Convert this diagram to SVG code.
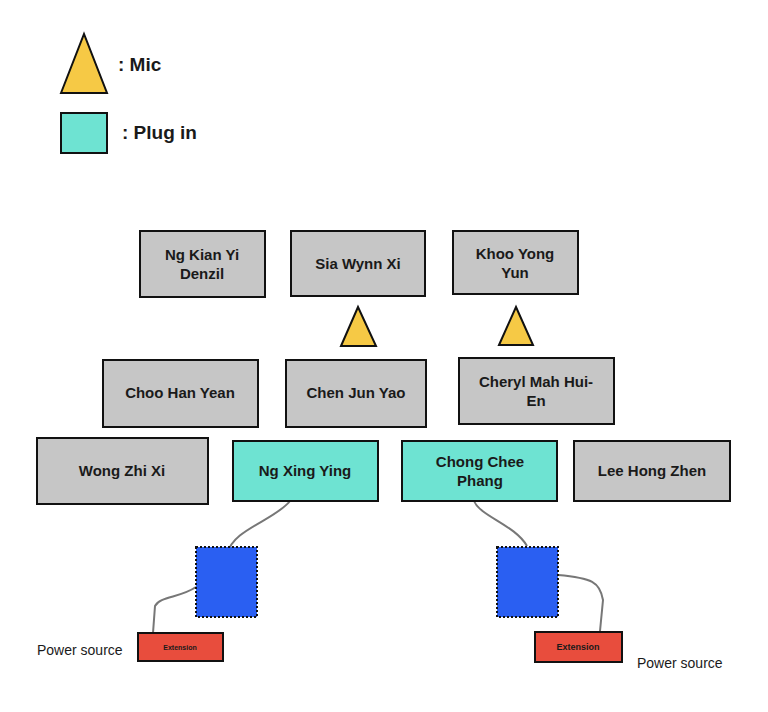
<svg xmlns="http://www.w3.org/2000/svg" width="768" height="712" viewBox="0 0 768 712">
<style>
.g{fill:#c6c6c6;stroke:#111;stroke-width:2}
.t{fill:#6ee3d2;stroke:#111;stroke-width:2}
.m{fill:#f6c945;stroke:#111;stroke-width:2;stroke-linejoin:miter}
.b{fill:#2a5ff2;stroke:#111;stroke-width:2;stroke-dasharray:2 2}
.e{fill:#e84d3d;stroke:#111;stroke-width:2}
text{font-family:"Liberation Sans",Arial,sans-serif;fill:#1a1a1a}
.l{font-size:15px;font-weight:bold;text-anchor:middle}
.c{fill:none;stroke:#777;stroke-width:2}
</style>
<g id="legend">
<polygon class="m" points="61,93 84,34 107,93"/>
<text x="118" y="71" font-size="19" font-weight="bold">: Mic</text>
<rect class="t" x="61" y="113" width="46" height="40"/>
<text x="122" y="139" font-size="19" font-weight="bold">: Plug in</text>
</g>
<g id="connectors">
<path class="c" d="M290,501 C275,520 232,530 228,553"/>
<path class="c" d="M196,587 C180,598 160,596 155,606 L153,633"/>
<path class="c" d="M474,501 C480,516 515,525 527,546"/>
<path class="c" d="M558,575 C592,578 600,582 603,600 L600,631"/>
</g>
<g id="n1"><rect class="g" x="140" y="231" width="125" height="66"/><text class="l" x="202" y="260">Ng Kian Yi</text><text class="l" x="202" y="279">Denzil</text></g>
<g id="n2"><rect class="g" x="291" y="231" width="134" height="65"/><text class="l" x="358" y="269">Sia Wynn Xi</text></g>
<g id="n3"><rect class="g" x="453" y="231" width="125" height="63"/><text class="l" x="515" y="259">Khoo Yong</text><text class="l" x="515" y="278">Yun</text></g>
<g id="mic1"><polygon class="m" points="341,346 358,307 376,346"/></g>
<g id="mic2"><polygon class="m" points="499,345 516,307 533,345"/></g>
<g id="n4"><rect class="g" x="103" y="360" width="155" height="67"/><text class="l" x="180" y="398">Choo Han Yean</text></g>
<g id="n5"><rect class="g" x="286" y="360" width="140" height="67"/><text class="l" x="356" y="398">Chen Jun Yao</text></g>
<g id="n6"><rect class="g" x="459" y="358" width="155" height="66"/><text class="l" x="536" y="387">Cheryl Mah Hui-</text><text class="l" x="536" y="406">En</text></g>
<g id="n7"><rect class="g" x="37" y="438" width="171" height="66"/><text class="l" x="122" y="476">Wong Zhi Xi</text></g>
<g id="n8"><rect class="t" x="233" y="441" width="145" height="60"/><text class="l" x="305" y="476">Ng Xing Ying</text></g>
<g id="n9"><rect class="t" x="402" y="441" width="155" height="60"/><text class="l" x="480" y="467">Chong Chee</text><text class="l" x="480" y="486">Phang</text></g>
<g id="n10"><rect class="g" x="574" y="441" width="156" height="60"/><text class="l" x="652" y="476">Lee Hong Zhen</text></g>
<g id="box1"><rect class="b" x="196" y="547" width="61" height="70"/></g>
<g id="box2"><rect class="b" x="497" y="547" width="61" height="70"/></g>
<g id="ext1"><rect class="e" x="138" y="633" width="85" height="28"/><text x="180" y="650" font-size="7" font-weight="bold" text-anchor="middle">Extension</text></g>
<g id="ext2"><rect class="e" x="535" y="632" width="87" height="30"/><text x="578" y="650" font-size="9" font-weight="bold" text-anchor="middle">Extension</text></g>
<g id="ps1"><text x="37" y="655" font-size="14">Power source</text></g>
<g id="ps2"><text x="637" y="668" font-size="14">Power source</text></g>
</svg>
